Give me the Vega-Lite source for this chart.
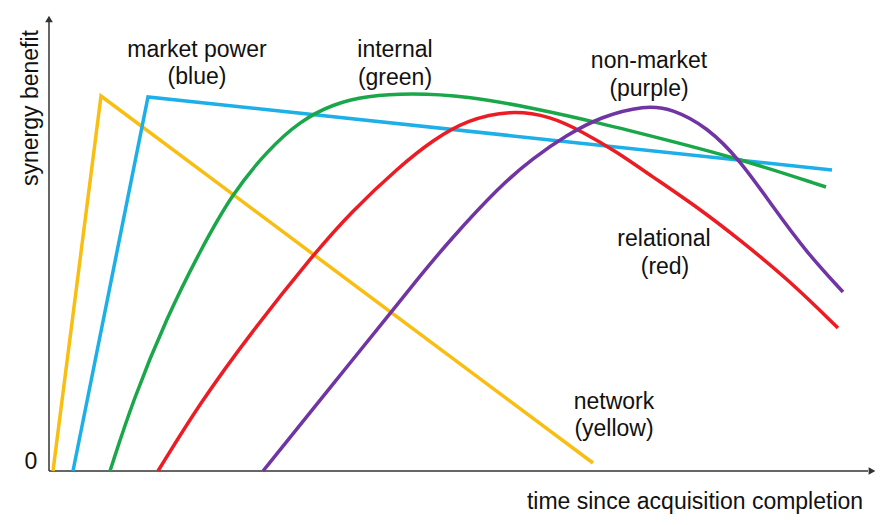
{
  "$schema": "https://vega.github.io/schema/vega-lite/v6.json",
  "width": 886,
  "height": 525,
  "autosize": {"type": "fit", "contains": "padding"},
  "padding": 0,
  "background": "white",
  "config": {"view": {"stroke": null}},
  "datasets": {
    "axes": [
      {"x": 49, "y": 471, "x2": 49, "y2": 22},
      {"x": 49, "y": 471, "x2": 868, "y2": 471}
    ],
    "arrows": [
      {"x": 49, "y": 19, "shape": "triangle-up"},
      {"x": 872, "y": 471, "shape": "triangle-right"}
    ],
    "straight": [
      {"series": "network", "x": 53, "y": 471},
      {"series": "network", "x": 101, "y": 96},
      {"series": "network", "x": 593, "y": 463},
      {"series": "market power", "x": 73, "y": 471},
      {"series": "market power", "x": 148, "y": 97},
      {"series": "market power", "x": 832, "y": 170}
    ],
    "curves": [
      {"series": "internal", "x": 110, "y": 471},
      {"series": "internal", "x": 133, "y": 400},
      {"series": "internal", "x": 167, "y": 317},
      {"series": "internal", "x": 200, "y": 251},
      {"series": "internal", "x": 232, "y": 194},
      {"series": "internal", "x": 267, "y": 151},
      {"series": "internal", "x": 300, "y": 121},
      {"series": "internal", "x": 333, "y": 104},
      {"series": "internal", "x": 367, "y": 96},
      {"series": "internal", "x": 410, "y": 93},
      {"series": "internal", "x": 467, "y": 96},
      {"series": "internal", "x": 533, "y": 108},
      {"series": "internal", "x": 600, "y": 123},
      {"series": "internal", "x": 667, "y": 140},
      {"series": "internal", "x": 740, "y": 159},
      {"series": "internal", "x": 826, "y": 187},
      {"series": "relational", "x": 158, "y": 471},
      {"series": "relational", "x": 200, "y": 403},
      {"series": "relational", "x": 250, "y": 334},
      {"series": "relational", "x": 313, "y": 255},
      {"series": "relational", "x": 350, "y": 213},
      {"series": "relational", "x": 400, "y": 166},
      {"series": "relational", "x": 433, "y": 140},
      {"series": "relational", "x": 467, "y": 120},
      {"series": "relational", "x": 510, "y": 110},
      {"series": "relational", "x": 550, "y": 116},
      {"series": "relational", "x": 583, "y": 132},
      {"series": "relational", "x": 617, "y": 152},
      {"series": "relational", "x": 650, "y": 175},
      {"series": "relational", "x": 700, "y": 209},
      {"series": "relational", "x": 740, "y": 240},
      {"series": "relational", "x": 790, "y": 281},
      {"series": "relational", "x": 838, "y": 328},
      {"series": "non-market", "x": 263, "y": 471},
      {"series": "non-market", "x": 300, "y": 425},
      {"series": "non-market", "x": 350, "y": 363},
      {"series": "non-market", "x": 393, "y": 310},
      {"series": "non-market", "x": 420, "y": 276},
      {"series": "non-market", "x": 450, "y": 240},
      {"series": "non-market", "x": 500, "y": 186},
      {"series": "non-market", "x": 533, "y": 158},
      {"series": "non-market", "x": 567, "y": 135},
      {"series": "non-market", "x": 600, "y": 117},
      {"series": "non-market", "x": 645, "y": 105},
      {"series": "non-market", "x": 673, "y": 109},
      {"series": "non-market", "x": 707, "y": 127},
      {"series": "non-market", "x": 740, "y": 160},
      {"series": "non-market", "x": 773, "y": 207},
      {"series": "non-market", "x": 807, "y": 253},
      {"series": "non-market", "x": 843, "y": 292}
    ],
    "labels": [
      {"text": "market power", "x": 197, "y": 50},
      {"text": "(blue)", "x": 197, "y": 77},
      {"text": "internal", "x": 395, "y": 50},
      {"text": "(green)", "x": 395, "y": 78},
      {"text": "non-market", "x": 649, "y": 61},
      {"text": "(purple)", "x": 649, "y": 89},
      {"text": "relational", "x": 664, "y": 239},
      {"text": "(red)", "x": 665, "y": 267},
      {"text": "network", "x": 614, "y": 402},
      {"text": "(yellow)", "x": 614, "y": 429},
      {"text": "0", "x": 31, "y": 462},
      {"text": "time since acquisition completion", "x": 695, "y": 502}
    ],
    "ylabel": [
      {"text": "synergy benefit", "x": 31, "y": 108}
    ]
  },
  "layer": [
    {
      "data": {"name": "axes"},
      "mark": {"type": "rule", "color": "#333333", "strokeWidth": 1.5},
      "encoding": {
        "x": {"field": "x", "type": "quantitative", "scale": {"domain": [0, 886], "nice": false, "zero": false}, "axis": null},
        "y": {"field": "y", "type": "quantitative", "scale": {"domain": [0, 525], "nice": false, "zero": false, "reverse": true}, "axis": null},
        "x2": {"field": "x2"},
        "y2": {"field": "y2"}
      }
    },
    {
      "data": {"name": "arrows"},
      "mark": {"type": "point", "filled": true, "color": "#333333", "size": 60, "opacity": 1},
      "encoding": {
        "x": {"field": "x", "type": "quantitative", "scale": {"domain": [0, 886], "nice": false, "zero": false}, "axis": null},
        "y": {"field": "y", "type": "quantitative", "scale": {"domain": [0, 525], "nice": false, "zero": false, "reverse": true}, "axis": null},
        "shape": {"field": "shape", "type": "nominal", "scale": null, "legend": null}
      }
    },
    {
      "data": {"name": "straight"},
      "mark": {"type": "line", "strokeWidth": 3.5, "interpolate": "linear"},
      "encoding": {
        "x": {"field": "x", "type": "quantitative", "scale": {"domain": [0, 886], "nice": false, "zero": false}, "axis": null},
        "y": {"field": "y", "type": "quantitative", "scale": {"domain": [0, 525], "nice": false, "zero": false, "reverse": true}, "axis": null},
        "color": {"field": "series", "type": "nominal", "legend": null,
          "scale": {"domain": ["network", "market power", "internal", "relational", "non-market"],
                    "range": ["#F9BE12", "#1CAFE8", "#19A74A", "#EC1C24", "#7135A3"]}}
      }
    },
    {
      "data": {"name": "curves"},
      "mark": {"type": "line", "strokeWidth": 3.5, "interpolate": "basis"},
      "encoding": {
        "x": {"field": "x", "type": "quantitative", "scale": {"domain": [0, 886], "nice": false, "zero": false}, "axis": null},
        "y": {"field": "y", "type": "quantitative", "scale": {"domain": [0, 525], "nice": false, "zero": false, "reverse": true}, "axis": null},
        "color": {"field": "series", "type": "nominal", "legend": null,
          "scale": {"domain": ["network", "market power", "internal", "relational", "non-market"],
                    "range": ["#F9BE12", "#1CAFE8", "#19A74A", "#EC1C24", "#7135A3"]}}
      }
    },
    {
      "data": {"name": "labels"},
      "mark": {"type": "text", "font": "Liberation Sans", "fontSize": 23, "color": "#111111", "baseline": "middle", "align": "center"},
      "encoding": {
        "x": {"field": "x", "type": "quantitative", "scale": {"domain": [0, 886], "nice": false, "zero": false}, "axis": null},
        "y": {"field": "y", "type": "quantitative", "scale": {"domain": [0, 525], "nice": false, "zero": false, "reverse": true}, "axis": null},
        "text": {"field": "text"}
      }
    },
    {
      "data": {"name": "ylabel"},
      "mark": {"type": "text", "font": "Liberation Sans", "fontSize": 23, "color": "#111111", "baseline": "middle", "align": "center", "angle": 270},
      "encoding": {
        "x": {"field": "x", "type": "quantitative", "scale": {"domain": [0, 886], "nice": false, "zero": false}, "axis": null},
        "y": {"field": "y", "type": "quantitative", "scale": {"domain": [0, 525], "nice": false, "zero": false, "reverse": true}, "axis": null},
        "text": {"field": "text"}
      }
    }
  ]
}
